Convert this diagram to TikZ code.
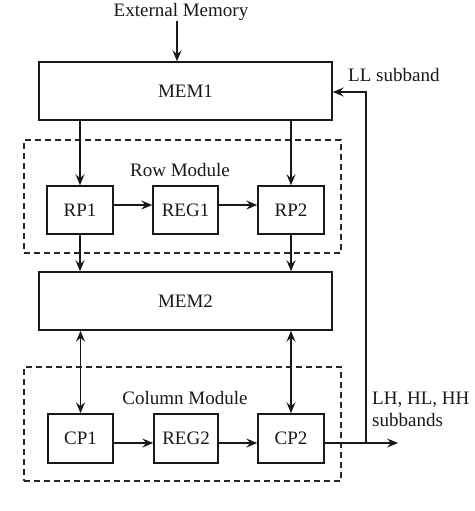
\documentclass[tikz,border=0pt]{standalone}
\usepackage{fontspec}
\setmainfont{Liberation Serif}
\usetikzlibrary{arrows.meta}
\begin{document}
\begin{tikzpicture}[x=1pt,y=-1pt,
  every node/.style={font=\fontsize{19}{22}\selectfont, text=black!90},
  blk/.style={draw=black!90, line width=1.5pt, inner sep=0pt},
  modbox/.style={draw=black!85, line width=1.5pt, dash pattern=on 6pt off 4pt, inner sep=0pt},
  lbl/.style={inner sep=0pt},
  arr/.style={draw=black!90, line width=1.4pt, -{Stealth[length=11pt,width=9pt,inset=4pt]}},
  darr/.style={draw=black!90, line width=1.4pt, {Stealth[length=11pt,width=9pt,inset=4pt]}-{Stealth[length=11pt,width=9pt,inset=4pt]}},
  ln/.style={draw=black!90, line width=1.4pt}]
\useasboundingbox (0,0) rectangle (474,511);

% module containers
\node[modbox, minimum width=317pt, minimum height=113pt] (rowmod) at (182.5,196.5) {};
\node[modbox, minimum width=317pt, minimum height=114pt] (colmod) at (182.5,424) {};
\node[lbl] (rowlbl) at (180,170) {Row Module};
\node[lbl] (collbl) at (185,398) {Column Module};

% memories
\node[lbl] (ext) at (181,12) {External Memory};
\node[blk, minimum width=293pt, minimum height=58pt] (mem1) at (185.5,91) {MEM1};
\node[blk, minimum width=293pt, minimum height=58pt] (mem2) at (185.5,301) {MEM2};

% row processors
\node[blk, minimum width=66pt, minimum height=48pt] (rp1) at (80,210) {RP1};
\node[blk, minimum width=65pt, minimum height=48pt] (reg1) at (185.5,210) {REG1};
\node[blk, minimum width=66pt, minimum height=48pt] (rp2) at (291,210) {RP2};

% column processors
\node[blk, minimum width=65pt, minimum height=49pt] (cp1) at (80.5,438.5) {CP1};
\node[blk, minimum width=64pt, minimum height=49pt] (reg2) at (186,438.5) {REG2};
\node[blk, minimum width=66pt, minimum height=49pt] (cp2) at (291,438.5) {CP2};

% side labels
\node[lbl, anchor=west] (lll) at (348,75) {LL subband};
\node[lbl, anchor=north west, align=left] (hhl) at (372,392) {LH, HL, HH\\subbands};

\coordinate (out) at (398,443);
\coordinate (tap) at (366,443);
\coordinate (up) at (366,92);

% connectors
\draw[arr] (ext.south -| 177,0) -- (mem1.north -| 177,0);
\draw[arr] (mem1.south -| rp1) -- (rp1.north);
\draw[arr] (mem1.south -| rp2) -- (rp2.north);
\draw[arr] ([yshift=5pt]rp1.east) -- ([yshift=5pt]reg1.west);
\draw[arr] ([yshift=5pt]reg1.east) -- ([yshift=5pt]rp2.west);
\draw[arr] (rp1.south) -- (mem2.north -| rp1);
\draw[arr] (rp2.south) -- (mem2.north -| rp2);
\draw[darr] (mem2.south -| cp1) -- (cp1.north);
\draw[darr] (mem2.south -| cp2) -- (cp2.north);
\draw[arr] ([yshift=-4.5pt]cp1.east) -- ([yshift=-4.5pt]reg2.west);
\draw[arr] ([yshift=-4.5pt]reg2.east) -- ([yshift=-4.5pt]cp2.west);
\draw[arr] ([yshift=-4.5pt]cp2.east) -- (out);
\draw[arr] (tap) -- (up) -- (mem1.east |- up);
\end{tikzpicture}
\end{document}
